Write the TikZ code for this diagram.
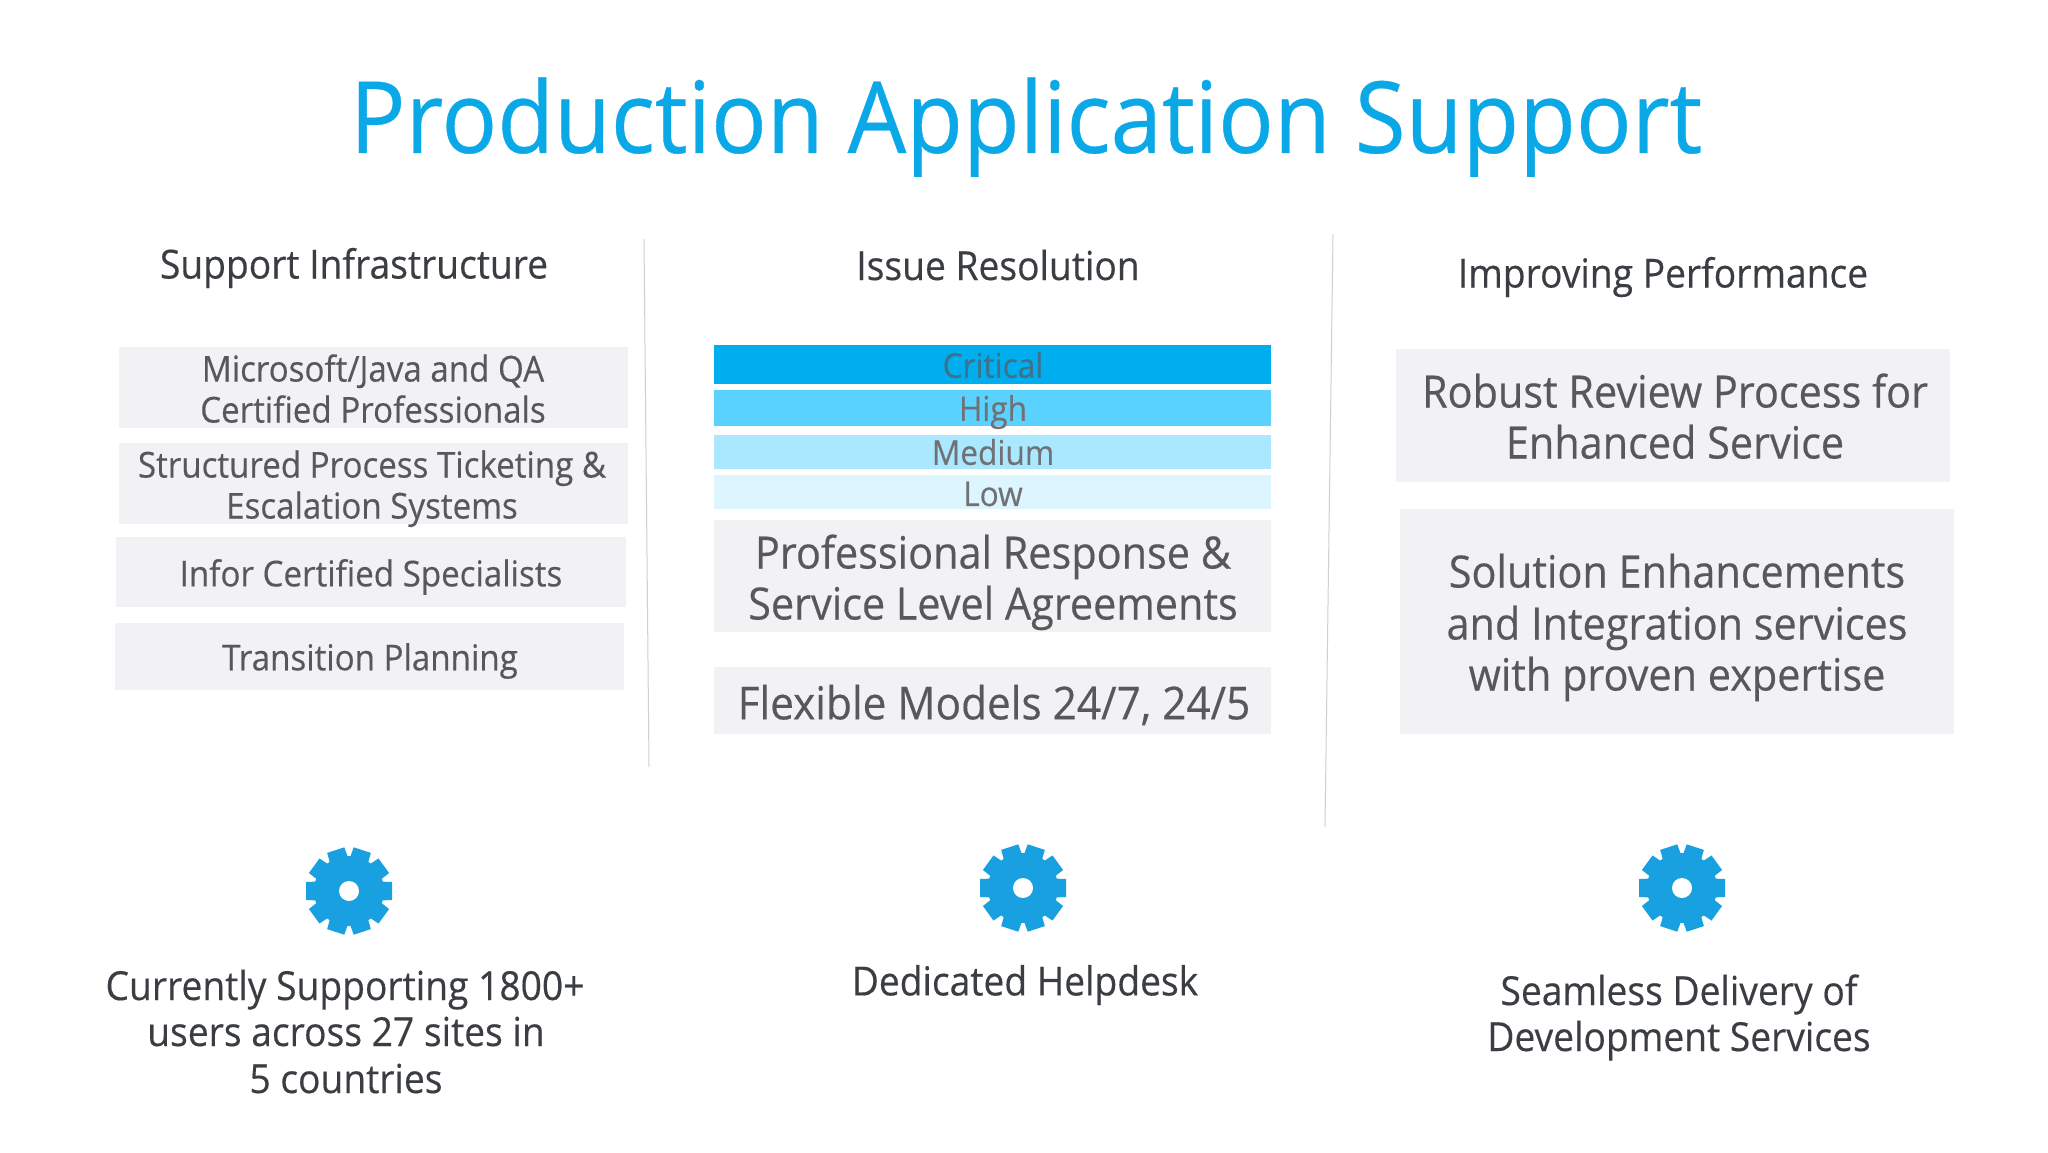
\documentclass[tikz,border=0pt]{standalone}
\usepackage{fontspec}
\setmainfont[FakeStretch=0.93,FakeBold=0.35]{Open Sans}
\definecolor{titleblue}{HTML}{0BA8E8}
\definecolor{headc}{HTML}{3A3D42}
\definecolor{bodyc}{HTML}{58585C}
\definecolor{boxc}{HTML}{F2F1F3}
\definecolor{gearc}{HTML}{18A0E0}
\definecolor{divc}{HTML}{CFCFD2}
\definecolor{sevA}{HTML}{00AEEF}
\definecolor{sevB}{HTML}{5AD2FF}
\definecolor{sevC}{HTML}{A9E8FF}
\definecolor{sevD}{HTML}{DDF5FF}
\newcommand{\fs}[1]{\fontsize{#1}{#1}\selectfont}
\tikzset{
  x=1pt,y=-1pt,
  head/.style={text=headc,align=center,inner sep=0pt,font=\fs{40}},
  foot/.style={text=headc,align=center,inner sep=0pt},
  boxlabel/.style={text=bodyc,align=center,inner sep=0pt},
  divider/.style={draw=divc,line width=1pt},
  band/.style={fill=#1,draw=none},
  gearshape/.pic={
    \fill[gearc] (0,0) circle[radius=35];
    \foreach \a in {0,36,...,324}{
      \fill[gearc,rotate=\a] (30,-9.5) -- (43,-9) -- (43,9) -- (30,9.5) -- cycle;
    }
    \fill[white] (0,0) circle[radius=10];
  }
}
\begin{document}
\begin{tikzpicture}
\useasboundingbox (0,0) rectangle (2048,1152);
\fill[white] (0,0) rectangle (2048,1152);
% title
\node[text=titleblue,inner sep=0pt,font=\fs{99.5}] (title) at (1026,127) {Production Application Support};
% headings
\node[head] (h1) at (354,268) {Support Infrastructure};
\node[head] (h2) at (998,265) {Issue Resolution};
\node[head] (h3) at (1663,277) {Improving Performance};
% dividers
\coordinate (d1a) at (644,239); \coordinate (d1b) at (649,767);
\coordinate (d2a) at (1333,234); \coordinate (d2b) at (1325,827);
\draw[divider] (d1a) -- (d1b);
\draw[divider] (d2a) -- (d2b);
% left boxes
\fill[boxc] (119,347) rectangle (628,428);
\fill[boxc] (119,443) rectangle (628,524);
\fill[boxc] (116,537) rectangle (626,607);
\fill[boxc] (115,623) rectangle (624,690);
\node[boxlabel,font=\fs{35.6},text height=28pt,text depth=9pt] (l1a) at (373,372) {Microsoft/Java and QA};
\node[boxlabel,font=\fs{35.6},text height=28pt,text depth=9pt] (l1b) at (373,413) {Certified Professionals};
\node[boxlabel,font=\fs{35.6},text height=28pt,text depth=9pt] (l2a) at (372,468) {Structured Process Ticketing \&};
\node[boxlabel,font=\fs{35.6},text height=28pt,text depth=9pt] (l2b) at (372,509) {Escalation Systems};
\node[boxlabel,font=\fs{35.6}] (l3) at (371,577) {Infor Certified Specialists};
\node[boxlabel,font=\fs{35.6}] (l4) at (370,661) {Transition Planning};
% severity bands
\fill[band=sevA] (714,345) rectangle (1271,384);
\fill[band=sevB] (714,390) rectangle (1271,426);
\fill[band=sevC] (714,435) rectangle (1271,469);
\fill[band=sevD] (714,475) rectangle (1271,509);
\node[boxlabel,text=bodyc!70!sevA,font=\fs{34}] (s1) at (993,365) {Critical};
\node[boxlabel,text=bodyc!85!white,font=\fs{34}] (s2) at (993,412) {High};
\node[boxlabel,text=bodyc!85!white,font=\fs{34}] (s3) at (993,452) {Medium};
\node[boxlabel,text=bodyc!85!white,font=\fs{34}] (s4) at (993,494) {Low};
% middle boxes
\fill[boxc] (714,520) rectangle (1271,632);
\fill[boxc] (714,667) rectangle (1271,734);
\node[boxlabel,font=\fs{44.5},text height=34pt,text depth=11pt] (m1a) at (993,557) {Professional Response \&};
\node[boxlabel,font=\fs{44.5},text height=34pt,text depth=11pt] (m1b) at (993,608) {Service Level Agreements};
\node[boxlabel,font=\fs{45.5}] (m2) at (994,705) {Flexible Models 24/7, 24/5};
% right boxes
\fill[boxc] (1396,349) rectangle (1950,482);
\fill[boxc] (1400,509) rectangle (1954,734);
\node[boxlabel,font=\fs{44.5},text height=34pt,text depth=11pt] (r1a) at (1675,396) {Robust Review Process for};
\node[boxlabel,font=\fs{44.5},text height=34pt,text depth=11pt] (r1b) at (1675,447) {Enhanced Service};
\node[boxlabel,font=\fs{44.5},text height=34pt,text depth=11pt] (r2a) at (1677,576) {Solution Enhancements};
\node[boxlabel,font=\fs{44.5},text height=34pt,text depth=11pt] (r2b) at (1677,628) {and Integration services};
\node[boxlabel,font=\fs{44.5},text height=34pt,text depth=11pt] (r2c) at (1677,679) {with proven expertise};
% gears
\pic at (349,891) {gearshape};
\pic at (1023,888) {gearshape};
\pic at (1682,888) {gearshape};
% bottom text
\node[foot,font=\fs{40},text height=30pt,text depth=10pt] (f1a) at (345,990) {Currently Supporting 1800+};
\node[foot,font=\fs{40},text height=30pt,text depth=10pt] (f1b) at (346,1036) {users across 27 sites in};
\node[foot,font=\fs{40},text height=30pt,text depth=10pt] (f1c) at (346,1083) {5 countries};
\node[foot,font=\fs{40}] (f2) at (1025,985) {Dedicated Helpdesk};
\node[foot,font=\fs{40},text height=30pt,text depth=10pt] (f3a) at (1679,995) {Seamless Delivery of};
\node[foot,font=\fs{40},text height=30pt,text depth=10pt] (f3b) at (1679,1041) {Development Services};
\end{tikzpicture}
\end{document}
